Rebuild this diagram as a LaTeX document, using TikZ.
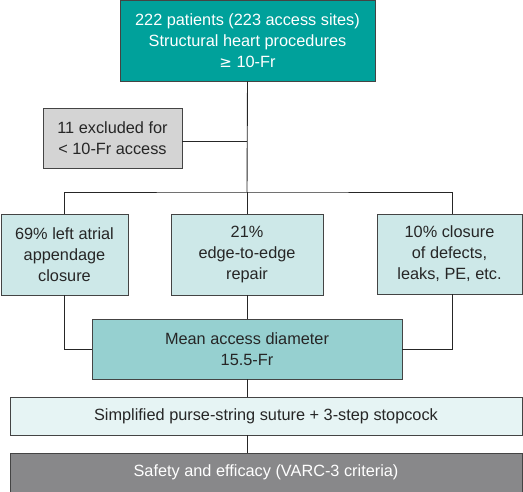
\documentclass[tikz,border=0pt]{standalone}
\usepackage{fontspec}
\setmainfont{Liberation Sans}
\definecolor{topc}{HTML}{00A19B}
\definecolor{lightc}{HTML}{CDE8E8}
\definecolor{meanc}{HTML}{96D0D0}
\definecolor{simpc}{HTML}{E6F4F4}
\definecolor{safec}{HTML}{88888A}
\definecolor{exclc}{HTML}{D4D4D4}
\definecolor{edgec}{HTML}{444444}
\tikzset{
  box/.style={draw=edgec, line width=0.9pt, align=center, inner sep=0pt,
    font=\fontsize{16.3}{21}\selectfont, text=black!85},
  conn/.style={draw=black!85, line width=0.9pt}
}
\begin{document}
\begin{tikzpicture}[x=1pt,y=-1pt]
\useasboundingbox (0,0) rectangle (523,492);
\node[box, fill=topc, text=white, minimum width=255pt, minimum height=81pt] (top) at (247.5,40.5)
  {222 patients (223 access sites)\\Structural heart procedures\\{\fontspec{DejaVu Sans}\fontsize{15}{21}\selectfont ≥} 10-Fr};
\node[box, fill=exclc, minimum width=139pt, minimum height=60pt] (excl) at (112.5,138)
  {11 excluded for\\< 10-Fr access};
\node[box, fill=lightc, minimum width=127pt, minimum height=81pt] (left) at (64.5,254.5)
  {69\% left atrial\\appendage\\closure};
\node[box, fill=lightc, minimum width=152pt, minimum height=81pt] (mid) at (247,254.5)
  {21\%\\edge-to-edge\\repair};
\node[box, fill=lightc, minimum width=145pt, minimum height=80pt] (right) at (449.5,254)
  {10\% closure\\of defects,\\leaks, PE, etc.};
\node[box, fill=meanc, minimum width=310pt, minimum height=60pt] (mean) at (247,349)
  {Mean access diameter\\15.5-Fr};
\node[box, fill=simpc, minimum width=512pt, minimum height=38pt] (simp) at (266,416)
  {Simplified purse-string suture + 3-step stopcock};
\node[box, fill=safec, text=white, minimum width=512pt, minimum height=39pt] (safe) at (266,472.5)
  {Safety and efficacy (VARC-3 criteria)};
\coordinate (j1) at (247,141);
\coordinate (j2) at (247,192);
\coordinate (rl) at ([xshift=2.5pt]right.north);
\coordinate (rb) at ([xshift=2.5pt]right.south);
\draw[conn] (top.south) -- (j2);
\draw[conn] (j1 -| excl.east) -- (j1);
\draw[conn] (left.north) |- (j2) -| (rl);
\draw[conn] (j2) -- (mid.north);
\draw[conn] (left.south) |- (mean.west);
\draw[conn] (rb) |- (mean.east);
\draw[conn] (mid.south) -- (mean.north);
\draw[conn] (mean.south -| top.south) -- (simp.north -| top.south);
\draw[conn] (simp.south -| top.south) -- (safe.north -| top.south);
\end{tikzpicture}
\end{document}
